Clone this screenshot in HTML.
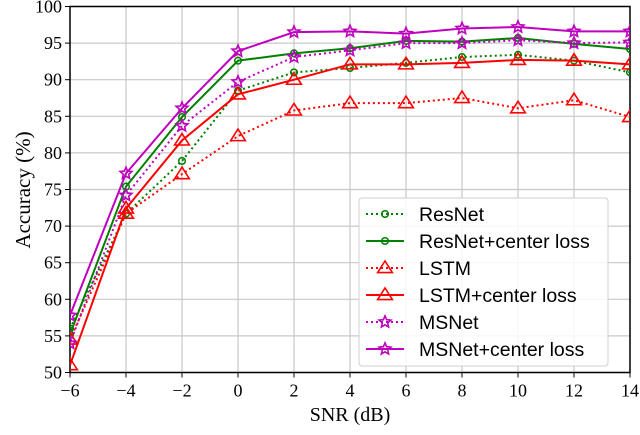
<!DOCTYPE html>
<html><head><meta charset="utf-8"><style>
body{margin:0;background:#fff}
svg text{font-family:"Liberation Serif",serif}
</style></head><body>
<svg id="chart" width="640" height="430" xmlns="http://www.w3.org/2000/svg"></svg>
<script>
const snr=[-6,-4,-2,0,2,4,6,8,10,12,14];
const resnet=[56,71.7,78.9,88.5,91.0,91.6,92.3,93.1,93.4,92.6,91.0];
const resnetCL=[55.2,75.4,84.9,92.6,93.6,94.3,95.3,95.2,95.7,94.9,94.2];
const lstm=[54.5,71.7,77.1,82.3,85.8,86.8,86.8,87.5,86.1,87.2,84.9];
const lstmCL=[51,72.4,81.7,88.0,90.0,92.1,92.1,92.3,92.7,92.6,92.1];
const msnet=[54,74.2,83.7,89.7,93.1,94.0,95.0,95.0,95.4,95.0,95.1];
const msnetCL=[57.8,77.2,86.1,93.9,96.5,96.6,96.3,97.0,97.2,96.6,96.6];
const xTicks=[-6,-4,-2,0,2,4,6,8,10,12,14];
const yTicks=[50,55,60,65,70,75,80,85,90,95,100];
const NS="http://www.w3.org/2000/svg";
const svg=document.getElementById('chart');
const X0=70,X1=630,Y0=372.5,Y1=6.5;
const xs=v=>X0+(v+6)/20*(X1-X0);
const ys=v=>Y0-(v-50)/50*(Y0-Y1);
function mk(tag,attrs,parent){const e=document.createElementNS(NS,tag);for(const k in attrs)e.setAttribute(k,attrs[k]);(parent||svg).appendChild(e);return e;}
const clip=mk('clipPath',{id:'pc'});mk('rect',{x:X0,y:Y1,width:X1-X0,height:Y0-Y1},clip);
xTicks.forEach(t=>{
 const g=mk('line',{x1:xs(t),x2:xs(t),y1:Y1,y2:Y0,stroke:'#c8c8c8','stroke-width':1.2});
 
 mk('line',{x1:xs(t),x2:xs(t),y1:Y0,y2:Y0+5,stroke:'#000'});
 const tx=mk('text',{x:xs(t),y:Y0+24,'font-size':18,'text-anchor':'middle'});
 tx.textContent=(t<0?'\u2212'+(-t):t);
 
});
yTicks.forEach(t=>{
 const g=mk('line',{x1:X0,x2:X1,y1:ys(t),y2:ys(t),stroke:'#c8c8c8','stroke-width':1.2});
 
 mk('line',{x1:X0-5,x2:X0,y1:ys(t),y2:ys(t),stroke:'#000'});
 const tx=mk('text',{x:X0-8,y:ys(t)+6,'font-size':18,'text-anchor':'end'});
 tx.textContent=t;
 
});
const frame=mk('rect',{x:X0,y:Y1,width:X1-X0,height:Y0-Y1,fill:'none',stroke:'#000','stroke-width':1.5});

function marker(type,cx,cy,color,parent){
 if(type==='o')return mk('circle',{cx:cx,cy:cy,r:3.3,fill:'none',stroke:color,'stroke-width':1.5},parent);
 if(type==='^'){const s=7;return mk('polygon',{points:`${cx},${cy-s} ${cx-s*1.05},${cy+s*0.65} ${cx+s*1.05},${cy+s*0.65}`,fill:'none',stroke:color,'stroke-width':1.6},parent);}
 let p=[];for(let i=0;i<10;i++){const r=i%2?2.8:6.2,a=-Math.PI/2+i*Math.PI/5;p.push((cx+r*Math.cos(a)).toFixed(1)+','+(cy+r*Math.sin(a)).toFixed(1));}
 return mk('polygon',{points:p.join(' '),fill:'none',stroke:color,'stroke-width':1.6},parent);
}
const series=[
 {name:'ResNet',d:resnet,c:'#008000',dash:true,m:'o',id:'resnet'},
 {name:'ResNet+center loss',d:resnetCL,c:'#008000',dash:false,m:'o',id:'resnet-center-loss'},
 {name:'LSTM',d:lstm,c:'#ff0000',dash:true,m:'^',id:'lstm'},
 {name:'LSTM+center loss',d:lstmCL,c:'#ff0000',dash:false,m:'^',id:'lstm-center-loss'},
 {name:'MSNet',d:msnet,c:'#bf00bf',dash:true,m:'*',id:'msnet'},
 {name:'MSNet+center loss',d:msnetCL,c:'#bf00bf',dash:false,m:'*',id:'msnet-center-loss'}];
series.forEach(s=>{
 const g=mk('g',{'clip-path':'url(#pc)'});
 
 const pl=mk('polyline',{points:s.d.map((v,i)=>xs(snr[i])+','+ys(v)).join(' '),fill:'none',stroke:s.c,'stroke-width':2,'stroke-dasharray':s.dash?'2,3':'none'},g);
 
 s.d.forEach((v,i)=>{const m=marker(s.m,xs(snr[i]),ys(v),s.c,g);
  });
});
const lg=mk('g',{});

mk('rect',{x:359,y:198,width:249,height:168,rx:3,fill:'#fff','fill-opacity':0.85,stroke:'#d0d0d0'},lg);
series.forEach((s,i)=>{
 const y=214+i*27;
 const e=mk('g',{},lg);
 
 mk('line',{x1:366,x2:404,y1:y,y2:y,stroke:s.c,'stroke-width':2,'stroke-dasharray':s.dash?'2,3':'none'},e);
 marker(s.m,385,y,s.c,e);
 const t=mk('text',{x:419,y:y+7,'font-size':19.5},e);
 t.setAttribute('style','font-family:"Liberation Sans",sans-serif');
 t.textContent=s.name;
});
const xl=mk('text',{x:350,y:421,'font-size':20,'text-anchor':'middle'});xl.textContent='SNR (dB)';

const yl=mk('text',{x:0,y:0,'font-size':21,'text-anchor':'middle',transform:'translate(30,190) rotate(-90)'});yl.textContent='Accuracy (%)';

</script>
</body></html>
